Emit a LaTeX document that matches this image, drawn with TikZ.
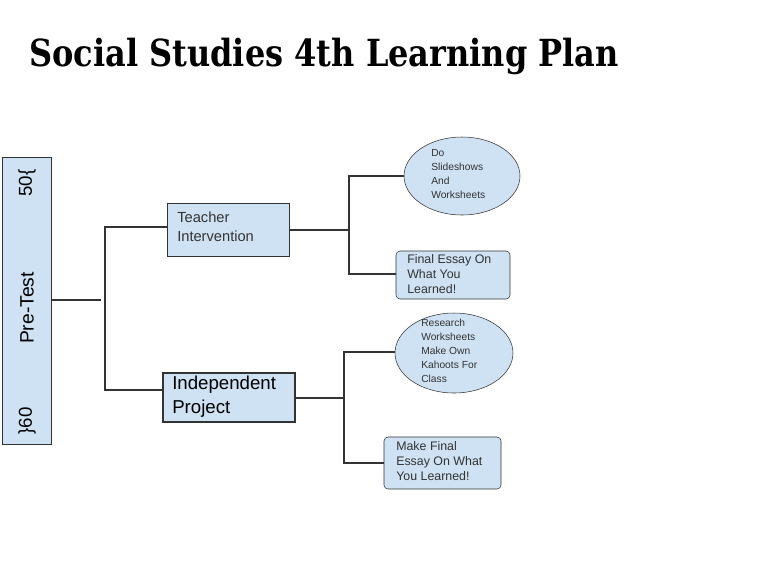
\documentclass[tikz,border=0pt]{standalone}
\usepackage{fontspec}
\setmainfont{Liberation Sans}
\newfontfamily\titlefont{DejaVu Serif}
\definecolor{lb}{HTML}{CFE2F3}
\begin{document}
\begin{tikzpicture}[x=0.75pt,y=-0.75pt,
  box/.style={draw=black!80,fill=lb,inner sep=0pt},
  ln/.style={draw=black!80,line width=0.8pt},
  tx/.style={align=left,anchor=north west,inner sep=0pt,text=black!80},
  sm/.style={font=\fontsize{7.7}{10.5}\selectfont},
  md/.style={font=\fontsize{9.3}{11.3}\selectfont}]
\useasboundingbox (0,0) rectangle (768,576);
\node[anchor=west,inner sep=0pt,font=\titlefont\bfseries\fontsize{25}{30}\selectfont] (title) at (29,56) {\scalebox{0.96}[1.12]{Social Studies 4th Learning Plan}};
\draw[box] (2,157) rectangle (51,444);
\node[rotate=90,inner sep=0pt,font=\fontsize{14.5}{16}\selectfont] (pre) at (27,308) {Pre-Test};
\node[rotate=90,inner sep=0pt,font=\fontsize{14}{16}\selectfont] (p50) at (27,183) {50\{};
\node[rotate=90,inner sep=0pt,font=\fontsize{14}{16}\selectfont] (p60) at (27,421) {\}60};
\coordinate (pl) at (51,300);
\coordinate (br) at (101,300);
\draw[ln] (pl) -- (br);
\draw[box] (167,203) rectangle (289,256);
\node[tx,font=\fontsize{11}{14}\selectfont] (t) at (177,212) {Teacher\\Intervention};
\draw[box,line width=1.3pt] (163,373) rectangle (295,422);
\node[tx,text=black,font=\fontsize{14}{18}\selectfont] (ip) at (172,376) {Independent\\Project};
\draw[ln] (167,227) -- (105,227) -- (105,390) -- (163,390);
\draw[ln] (289,230) -- (349,230);
\draw[ln] (405,176) -- (349,176) -- (349,274) -- (396,274);
\draw[ln] (295,398) -- (344,398);
\draw[ln] (395,352) -- (344,352) -- (344,463) -- (384,463);
\draw[box] (462,176) ellipse [x radius=58,y radius=39];
\node[tx,sm] (e1) at (431,149) {Do\\Slideshows\\And\\Worksheets};
\draw[box,rounded corners=3pt] (396,251) rectangle (510,299);
\node[tx,md] (f1) at (407,254) {Final Essay On\\What You\\Learned!};
\draw[box] (454,353) ellipse [x radius=59,y radius=40];
\node[tx,sm] (e2) at (421,319) {Research\\Worksheets\\Make Own\\Kahoots For\\Class};
\draw[box,rounded corners=3pt] (384,437) rectangle (501,489);
\node[tx,md] (f2) at (396,441) {Make Final\\Essay On What\\You Learned!};
\end{tikzpicture}
\end{document}
